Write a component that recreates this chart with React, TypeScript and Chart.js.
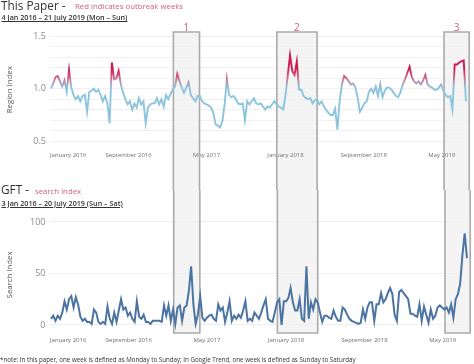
import React, { useEffect, useRef } from 'react';
import { Chart, registerables } from 'chart.js';

Chart.register(...registerables);
Chart.defaults.font.family = "'Open Sans', sans-serif";

// ---- categories: weekly periods starting Monday 4 Jan 2016 ----
const FIRST_WEEK = Date.UTC(2016, 0, 4);
const WEEK_MS = 7 * 86400000;
const weekOf = (iso: string) => (Date.parse(iso + 'T00:00:00Z') - FIRST_WEEK) / WEEK_MS;

// ---- series: this paper (region index) ----
const regionIndex = [
  1.00, 1.05, 1.11, 1.12, 1.07, 1.02, 1.08, 0.97, 1.18, 1.01,
  0.94, 0.90, 0.93, 0.88, 0.93, 0.94, 0.78, 0.97, 0.98, 1.00,
  0.97, 0.99, 0.94, 0.88, 0.93, 0.86, 0.67, 1.25, 1.09, 1.10,
  1.17, 1.04, 0.96, 0.90, 0.85, 0.88, 0.80, 0.86, 0.82, 0.91,
  0.85, 0.88, 0.67, 0.82, 0.85, 0.86, 0.86, 0.91, 0.85, 0.90,
  0.83, 0.94, 0.90, 0.95, 0.99, 1.02, 1.14, 1.07, 1.01, 0.96,
  1.01, 1.06, 0.94, 0.91, 0.88, 0.93, 0.93, 0.88, 0.86, 0.85,
  0.84, 0.82, 0.77, 0.66, 0.65, 0.63, 0.69, 0.85, 1.09, 0.94,
  0.92, 0.93, 0.90, 0.86, 0.85, 0.86, 0.70, 0.88, 0.85, 0.88,
  0.91, 0.86, 0.85, 0.86, 0.83, 0.80, 0.83, 0.82, 0.85, 0.88,
  0.85, 0.83, 0.82, 0.80, 0.94, 1.13, 1.32, 1.17, 1.13, 1.26,
  0.99, 0.99, 0.93, 0.91, 0.90, 0.91, 0.86, 0.89, 0.90, 0.85,
  0.88, 0.83, 0.80, 0.77, 0.75, 0.75, 0.81, 0.61, 0.88, 1.04,
  1.12, 1.10, 1.07, 1.04, 1.05, 1.01, 0.91, 0.78, 0.82, 0.86,
  0.88, 0.97, 1.00, 0.96, 1.02, 0.93, 1.04, 0.92, 0.98, 1.01,
  1.01, 0.99, 0.96, 0.93, 0.92, 0.97, 1.04, 1.09, 1.15, 1.21,
  1.11, 1.07, 1.05, 1.07, 1.04, 1.08, 1.13, 1.04, 1.02, 1.01,
  0.99, 0.99, 1.01, 1.04, 0.98, 0.94, 0.92, 0.93, 0.80, 1.23,
  1.23, 1.25, 1.26, 1.27, 0.88,
];

// ---- series: Google Flu Trends search index ----
const searchIndex = [
  6, 9, 4, 9, 6, 12, 23, 15, 25, 28,
  17, 27, 20, 8, 4, 6, 3, 3, 1, 15,
  12, 3, 1, 3, 1, 18, 6, 1, 12, 3,
  14, 25, 15, 17, 9, 12, 6, 3, 23, 8,
  6, 10, 3, 3, 1, 4, 4, 4, 4, 3,
  19, 9, 19, 4, 15, 1, 17, 19, 4, 17,
  19, 33, 57, 20, 1, 10, 28, 7, 4, 7,
  9, 10, 6, 4, 20, 14, 17, 3, 12, 23,
  4, 9, 6, 10, 7, 14, 23, 4, 6, 4,
  12, 9, 6, 12, 19, 25, 6, 4, 3, 12,
  22, 25, 0, 23, 23, 26, 36, 22, 14, 14,
  25, 6, 4, 57, 6, 22, 15, 25, 22, 12,
  3, 9, 9, 7, 6, 14, 8, 4, 4, 17,
  15, 10, 6, 4, 3, 2, 1, 2, 15, 6,
  17, 22, 22, 4, 20, 20, 31, 22, 25, 31,
  36, 30, 10, 4, 32, 34, 31, 28, 25, 11,
  11, 9, 8, 20, 4, 18, 10, 2, 15, 6,
  9, 17, 19, 17, 15, 17, 12, 20, 7, 25,
  30, 40, 68, 89, 65,
];

const weekStarts = regionIndex.map((_, i) => new Date(FIRST_WEEK + i * WEEK_MS));

// ---- x tick labels ----
const xTickLabels = ['January 2016', 'September 2016', 'May 2017', 'January 2018', 'September 2018', 'May 2019'];
const xTickDates = ['2016-01-01', '2016-09-01', '2017-05-01', '2018-01-01', '2018-09-01', '2019-05-01'];
const X_MIN = weekOf('2016-01-01');
const X_MAX = weekOf('2019-07-26');

// ---- y ticks ----
const regionGrid = [0.5, 0.6, 0.7, 0.8, 0.9, 1.0, 1.1, 1.2, 1.3, 1.4, 1.5];
const regionTicks = [0.5, 1.0, 1.5];
const searchTicks = [0, 50, 100];

// ---- highlighted periods ----
const boxLabels = ['1', '2', '3'];
const boxStart = ['2017-01-18', '2017-12-05', '2019-05-08'];
const boxEnd = ['2017-04-09', '2018-04-09', '2019-07-25'];

const BLUE = '#8cc4de';
const NAVY = '#4b74a2';
const RED_TEXT = '#d2607c';

function boxPlugin(part: 'top' | 'bottom') {
  const extent = (chart: any) => {
    const a = chart.chartArea;
    return part === 'top' ? [a.top, chart.height] : [0, a.bottom];
  };
  return {
    id: 'outbreakBoxes',
    beforeDraw(chart: any) {
      const x = chart.scales.x;
      const [y0, y1] = extent(chart);
      const c = chart.ctx;
      c.save();
      c.fillStyle = '#f4f4f4';
      boxStart.forEach((s, i) => {
        const x0 = x.getPixelForValue(weekOf(s));
        const x1 = x.getPixelForValue(weekOf(boxEnd[i]));
        c.fillRect(x0, y0, x1 - x0, y1 - y0);
      });
      c.restore();
    },
    beforeDatasetsDraw(chart: any) {
      const x = chart.scales.x;
      const [y0, y1] = extent(chart);
      const c = chart.ctx;
      c.save();
      c.strokeStyle = '#ababab';
      c.lineWidth = 1.6;
      boxStart.forEach((s, i) => {
        const x0 = x.getPixelForValue(weekOf(s));
        const x1 = x.getPixelForValue(weekOf(boxEnd[i]));
        c.beginPath();
        if (part === 'top') {
          c.moveTo(x0, y1); c.lineTo(x0, y0); c.lineTo(x1, y0); c.lineTo(x1, y1);
        } else {
          c.moveTo(x0, y0); c.lineTo(x0, y1); c.lineTo(x1, y1); c.lineTo(x1, y0);
        }
        c.stroke();
        if (part === 'top') {
          c.fillStyle = RED_TEXT;
          c.font = "10px 'Open Sans', sans-serif";
          c.textAlign = 'center';
          c.textBaseline = 'alphabetic';
          c.fillText(boxLabels[i], (x0 + x1) / 2, y0 - 1.5);
        }
      });
      c.restore();
    },
  };
}

function xAxis(height: number, pad: number) {
  return {
    type: 'linear' as const,
    min: X_MIN,
    max: X_MAX,
    afterBuildTicks: (scale: any) => {
      scale.ticks = xTickDates.map((d) => ({ value: weekOf(d) })).concat([{ value: X_MAX }]);
    },
    afterFit: (scale: any) => { scale.height = height; },
    grid: { display: false, drawTicks: false },
    border: { display: false },
    ticks: {
      autoSkip: false,
      maxRotation: 0,
      align: 'inner' as const,
      padding: pad,
      color: '#6e6e6e',
      font: { size: 6 },
      callback: (_v: any, idx: number) => xTickLabels[idx] ?? '',
    },
  };
}

function regionGradient(chart: any) {
  const { chartArea, scales } = chart;
  if (!chartArea) return BLUE;
  const y = scales.y;
  const g = chart.ctx.createLinearGradient(0, y.getPixelForValue(1.01), 0, y.getPixelForValue(1.2));
  g.addColorStop(0, BLUE);
  g.addColorStop(0.35, '#c08aa8');
  g.addColorStop(0.65, '#d8476f');
  g.addColorStop(1, '#cc1a52');
  return g;
}

export default function App() {
  const topRef = useRef<HTMLCanvasElement>(null);
  const botRef = useRef<HTMLCanvasElement>(null);

  useEffect(() => {
    const top = new Chart(topRef.current!, {
      type: 'line',
      data: {
        labels: weekStarts.map((d) => d.toISOString().slice(0, 10)),
        datasets: [{
          label: 'Region Index',
          data: regionIndex.map((v, i) => ({ x: i, y: v })),
          borderColor: (ctx: any) => regionGradient(ctx.chart),
          borderWidth: 1.9,
          pointRadius: 0,
          tension: 0,
          fill: false,
        }],
      },
      options: {
        responsive: false,
        animation: false,
        events: [],
        layout: { padding: { top: 32, right: 2.5, left: 0, bottom: 0 } },
        plugins: { legend: { display: false }, tooltip: { enabled: false } },
        scales: {
          x: xAxis(42.5, 4.5),
          y: {
            min: 0.44,
            max: 1.54,
            afterBuildTicks: (scale: any) => { scale.ticks = regionGrid.map((v) => ({ value: v })); },
            afterFit: (scale: any) => { scale.width = 50; },
            grid: { color: '#f0f0f0', drawTicks: false, lineWidth: 1 },
            border: { display: false },
            ticks: {
              autoSkip: false,
              padding: 4,
              color: '#8c8c8c',
              font: { size: 9 },
              callback: (v: any) => (regionTicks.some((t) => Math.abs(t - v) < 1e-6) ? Number(v).toFixed(1) : ''),
            },
            title: { display: true, text: 'Region Index', color: '#555', font: { size: 7.8 }, padding: { top: 5, bottom: 0 } },
          },
        },
      },
      plugins: [boxPlugin('top')],
    });

    const bot = new Chart(botRef.current!, {
      type: 'line',
      data: {
        labels: weekStarts.map((d) => d.toISOString().slice(0, 10)),
        datasets: [{
          label: 'Search Index',
          data: searchIndex.map((v, i) => ({ x: i, y: v })),
          borderColor: NAVY,
          borderWidth: 2,
          pointRadius: 0,
          tension: 0,
          fill: false,
        }],
      },
      options: {
        responsive: false,
        animation: false,
        events: [],
        layout: { padding: { top: 26.85, right: 2.5, left: 0, bottom: 0 } },
        plugins: { legend: { display: false }, tooltip: { enabled: false } },
        scales: {
          x: xAxis(31, 3.5),
          y: {
            min: -7.8,
            max: 105,
            afterBuildTicks: (scale: any) => { scale.ticks = searchTicks.map((v) => ({ value: v })); },
            afterFit: (scale: any) => { scale.width = 50; },
            grid: { color: '#efefef', drawTicks: false, lineWidth: 1 },
            border: { display: false },
            ticks: { autoSkip: false, padding: 4.5, color: '#8c8c8c', font: { size: 9 }, callback: (v: any) => String(v) },
            title: { display: true, text: 'Search Index', color: '#555', font: { size: 7.8 }, padding: { top: 5, bottom: 0 } },
          },
        },
      },
      plugins: [boxPlugin('bottom')],
    });

    return () => { top.destroy(); bot.destroy(); };
  }, []);

  const abs = (left: number, top: number, extra: React.CSSProperties = {}): React.CSSProperties => ({
    position: 'absolute', left, top, lineHeight: 1, whiteSpace: 'nowrap',
    fontFamily: "'Open Sans', sans-serif", ...extra,
  });

  return (
    <div style={{ position: 'absolute', left: 0, top: 0, width: 474, height: 364, background: '#fff', overflow: 'hidden' }}>
      <canvas ref={topRef} width={474} height={190} style={{ position: 'absolute', left: 0, top: 0, display: 'block' }} />
      <canvas ref={botRef} width={474} height={174} style={{ position: 'absolute', left: 0, top: 190, display: 'block' }} />
      <div style={abs(1, -0.4, { fontSize: 11.8, color: '#333' })}>This Paper -</div>
      <div style={abs(75, 3.3, { fontSize: 7.8, color: RED_TEXT })}>Red indicates outbreak weeks</div>
      <div style={abs(1.5, 14.4, { fontSize: 7.2, fontWeight: 600, color: '#333', textDecoration: 'underline' })}>4 Jan 2016 – 21 July 2019 (Mon – Sun)</div>
      <div style={abs(1, 184, { fontSize: 11.8, color: '#333' })}>GFT -</div>
      <div style={abs(35, 187.5, { fontSize: 7.8, color: RED_TEXT })}>search index</div>
      <div style={abs(1.5, 199.6, { fontSize: 7.2, fontWeight: 600, color: '#333', textDecoration: 'underline' })}>3 Jan 2016 – 20 July 2019 (Sun – Sat)</div>
      <div style={abs(0, 356.5, { fontSize: 6.2, color: '#333' })}>*note: In this paper, one week is defined as Monday to Sunday; In Google Trend, one week is defined as Sunday to Saturday</div>
    </div>
  );
}
